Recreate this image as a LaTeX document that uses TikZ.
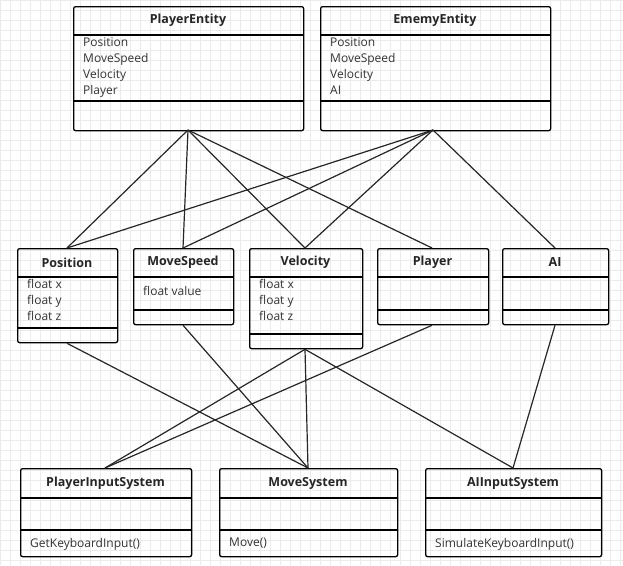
\documentclass[tikz,border=0pt]{standalone}
\usepackage{fontspec}
\setmainfont{Open Sans}
\begin{document}
\begin{tikzpicture}[x=1pt,y=-1pt,
  box/.style={draw,line width=1.3pt,rounded corners=2pt,anchor=north west,inner sep=0pt},
  sep/.style={line width=1.3pt},
  ttl/.style={font=\fontsize{12.5}{14}\selectfont\bfseries,text=black!85},
  body/.style={font=\fontsize{12}{16}\selectfont,text=black!80,anchor=north west,align=left,inner sep=0pt},
  conn/.style={line width=1.2pt,black!85}]
\useasboundingbox (0,0) rectangle (623,565);
\fill[white] (0,0) rectangle (623,565);
\draw[black!8,step=10pt,line width=0.4pt] (0,0) grid (623,565);
\newcommand{\umlbox}[8]{% name,x1,y1,x2,y2,div1,div2,title
  \node[box,minimum width=#4-#2,minimum height=#5-#3] (#1) at (#2,#3) {};
  \draw[sep] (#2,#6) -- (#4,#6);
  \draw[sep] (#2,#7) -- (#4,#7);
  \node[ttl] (#1t) at ({(#2+#4)/2},{(#3+#6)/2}) {#8};}
\umlbox{pe}{73}{6}{303}{130}{35}{101}{PlayerEntity}
\umlbox{ee}{320}{6}{550}{130}{35}{101}{EmemyEntity}
\umlbox{pos}{17}{248}{117}{342}{277}{328}{Position}
\umlbox{ms}{133}{248}{233}{324}{277}{310}{MoveSpeed}
\umlbox{vel}{249}{248}{362}{348}{277}{334}{Velocity}
\umlbox{pl}{377}{248}{488}{324}{277}{310}{Player}
\umlbox{ai}{502}{248}{608}{324}{277}{310}{AI}
\umlbox{pis}{20}{468}{191}{556}{498}{530}{PlayerInputSystem}
\umlbox{mvs}{219}{468}{397}{556}{498}{530}{MoveSystem}
\umlbox{ais}{425}{468}{601}{556}{498}{530}{AIInputSystem}
\node[body] (peb) at (83,37) {Position\\MoveSpeed\\Velocity\\Player};
\node[body] (eeb) at (330,37) {Position\\MoveSpeed\\Velocity\\AI};
\node[body] (posb) at (27,279) {float x\\float y\\float z};
\node[body] (msb) at (143,286) {float value};
\node[body] (velb) at (259,279) {float x\\float y\\float z};
\node[body] (pisb) at (30,538) {GetKeyboardInput()};
\node[body] (mvsb) at (229,538) {Move()};
\node[body] (aisb) at (435,538) {SimulateKeyboardInput()};
\coordinate (pes) at (188,130);
\coordinate (ees) at (433,130);
\foreach \t/\xx in {pos/67,ms/183,vel/305,pl/432}{\draw[conn] (pes) -- (\t.north -| \xx,0);}
\foreach \t/\xx in {pos/67,ms/183,vel/305,ai/555}{\draw[conn] (ees) -- (\t.north -| \xx,0);}
\coordinate (mvt) at (308,468);
\coordinate (pit) at (105,468);
\coordinate (ait) at (513,468);
\draw[conn] (pos.south -| 67,0) -- (mvt);
\draw[conn] (ms.south -| 183,0) -- (mvt);
\draw[conn] (vel.south -| 305,0) -- (mvt);
\draw[conn] (vel.south -| 305,0) -- (pit);
\draw[conn] (vel.south -| 305,0) -- (ait);
\draw[conn] (pl.south -| 432,0) -- (pit);
\draw[conn] (ai.south -| 555,0) -- (ait);
\end{tikzpicture}
\end{document}
